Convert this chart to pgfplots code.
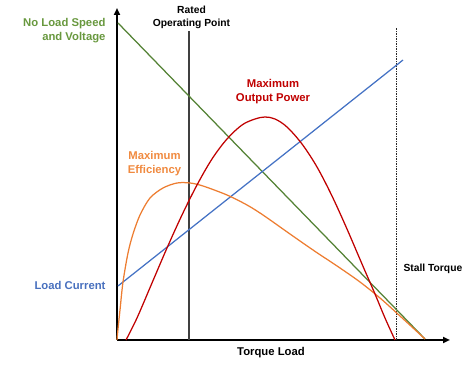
\documentclass[border=0pt]{standalone}
\usepackage{fontspec}
\setmainfont{Liberation Sans}
\usepackage{pgfplots}
\pgfplotsset{compat=1.18}
\usetikzlibrary{arrows.meta}
\definecolor{cred}{RGB}{192,0,0}
\definecolor{cblue}{RGB}{68,114,196}
\definecolor{corange}{RGB}{237,125,49}
\definecolor{cgreen}{RGB}{84,130,53}
\definecolor{tgreen}{RGB}{104,152,62}
\definecolor{torange}{RGB}{240,138,64}
\definecolor{tblue}{RGB}{72,112,190}
\tikzset{
  lbl/.style={font=\bfseries\fontsize{11.3}{14}\selectfont, align=center},
  slbl/.style={font=\bfseries\fontsize{10.3}{13}\selectfont, align=center}
}
\begin{document}
\begin{tikzpicture}
\begin{axis}[
  name=ax, width=333pt, height=332pt, scale only axis,
  xmin=0, xmax=333, ymin=0, ymax=332, enlargelimits=false,
  axis lines=left,
  axis line style={line width=1.8pt, -{Triangle[length=7pt,width=6pt]}},
  xtick=\empty, ytick=\empty, clip=false,
  every axis plot/.append style={line width=1.25pt}
]
\coordinate (bl) at (axis cs:-117,-26);
\coordinate (tr) at (axis cs:357,340);
% rated operating point
\addplot[black!75, line width=1.1pt] coordinates {(72,0) (72,309)};
% stall torque
\addplot[black!85, line width=1pt, dash pattern=on 1.5pt off 1pt] coordinates {(279,0) (279,312)};
% green: no load speed / voltage
\addplot[cgreen] coordinates {(1,317) (308,1)};
% blue: load current
\addplot[cblue] coordinates {(1,54) (286,280)};
% orange: efficiency
\addplot[corange, smooth, tension=0.5] coordinates {
(0,0) (1,11) (3,30) (6,58) (11,87) (16,106) (23,125) (33,142) (46,152)
(60,157) (73,157) (86,154) (110,145) (130,135) (146,125) (173,106)
(196,90) (223,72) (243,58) (263,42) (283,24) (308,1)};
% red: output power
\addplot[cred, smooth, tension=0.55] coordinates {
(9,0) (20,22) (35,57) (50,92) (65,125) (80,155) (95,181) (110,201)
(125,215) (138,221) (148,223) (158,221) (170,213) (185,196) (200,173)
(215,144) (230,111) (245,76) (258,46) (268,22) (278,0)};
% labels
\node[lbl, anchor=east, align=right, text=tgreen] at (axis cs:-8,309) {No Load Speed\\and Voltage};
\node[slbl] at (axis cs:74.5,322.5) {Rated\\Operating Point};
\node[lbl, text=cred] at (axis cs:156,248) {Maximum\\Output Power};
\node[lbl, text=torange] at (axis cs:37.5,176.5) {Maximum\\Efficiency};
\node[lbl, anchor=east, text=tblue] at (axis cs:-8,54.3) {Load Current};
\node[slbl, anchor=west] at (axis cs:283,71) {Stall Torque};
\node[lbl] at (axis cs:154,-12.7) {Torque Load};
\end{axis}
\pgfresetboundingbox
\path[use as bounding box] (bl) rectangle (tr);
\end{tikzpicture}
\end{document}
